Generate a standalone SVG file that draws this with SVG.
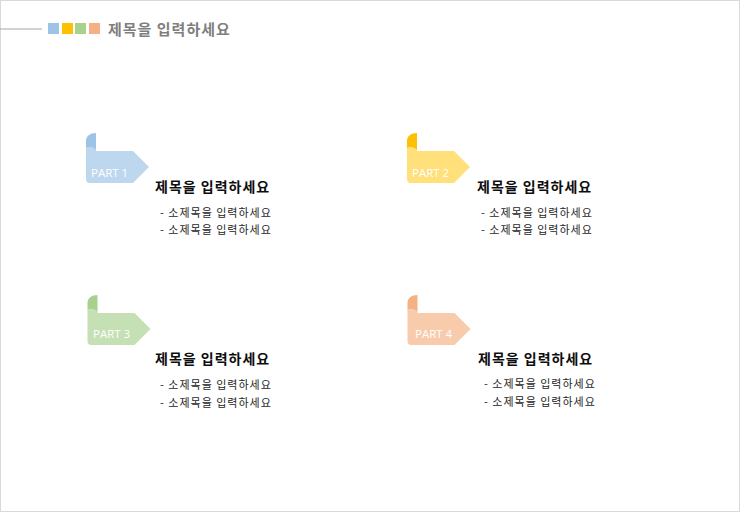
<svg xmlns="http://www.w3.org/2000/svg" width="740" height="512" viewBox="0 0 740 512">
<defs>
<style>
.kr{font-family:"Noto Sans CJK KR","Noto Sans",sans-serif;letter-spacing:1px;}
.head{font-size:15px;font-weight:bold;fill:#7f7f7f;}
.ttl{font-size:14px;font-weight:bold;fill:#0d0d0d;}
.sub{font-size:11px;fill:#262626;}
.part{font-family:"Open Sans","Liberation Sans",sans-serif;font-size:11.5px;fill:#ffffff;}
</style>
<path id="curl" d="M96,133 L96,150 C93,147 89,146 86,148 L86,141 C86,136 90,133 96,133 Z"/>
<path id="body" d="M86,148 C89,146 93,147 96,150 L96,151 L133,151 L149,167 L133,183 L90,183 Q86,183 86,179 Z"/>
</defs>
<rect x="0.5" y="0.5" width="739" height="511" fill="#ffffff" stroke="#d9d9d9"/>
<g id="header">
<line x1="0" y1="29" x2="42" y2="29" stroke="#a6a6a6" stroke-width="1"/>
<rect x="48" y="23" width="11" height="11" fill="#9dc3e6"/>
<rect x="62" y="23" width="11" height="11" fill="#ffc000"/>
<rect x="75" y="23" width="11" height="11" fill="#a9d18e"/>
<rect x="89" y="23" width="11" height="11" fill="#f4b183"/>
<text x="108" y="35" class="kr head">제목을 입력하세요</text>
</g>
<g id="connectors"></g>
<g id="part1">
<use href="#body" fill="#bdd7ee"/>
<use href="#curl" fill="#9dc3e6"/>
<text x="91" y="177" class="part">PART 1</text>
<text x="155" y="192" class="kr ttl">제목을 입력하세요</text>
<text x="160" y="216.5" class="kr sub">- 소제목을 입력하세요</text>
<text x="160" y="234" class="kr sub">- 소제목을 입력하세요</text>
</g>
<g id="part2">
<g transform="translate(321,0)">
<use href="#body" fill="#ffe07a"/>
<use href="#curl" fill="#ffc000"/>
</g>
<text x="412" y="177" class="part">PART 2</text>
<text x="477" y="192" class="kr ttl">제목을 입력하세요</text>
<text x="481" y="216.5" class="kr sub">- 소제목을 입력하세요</text>
<text x="481" y="234" class="kr sub">- 소제목을 입력하세요</text>
</g>
<g id="part3">
<g transform="translate(1.5,162)">
<use href="#body" fill="#c5e0b4"/>
<use href="#curl" fill="#a9d18e"/>
</g>
<text x="93" y="338" class="part">PART 3</text>
<text x="155" y="364" class="kr ttl">제목을 입력하세요</text>
<text x="160" y="389" class="kr sub">- 소제목을 입력하세요</text>
<text x="160" y="407" class="kr sub">- 소제목을 입력하세요</text>
</g>
<g id="part4">
<g transform="translate(321.5,162)">
<use href="#body" fill="#f8cbad"/>
<use href="#curl" fill="#f4b183"/>
</g>
<text x="415" y="338" class="part">PART 4</text>
<text x="478" y="363.5" class="kr ttl">제목을 입력하세요</text>
<text x="484" y="388" class="kr sub">- 소제목을 입력하세요</text>
<text x="484" y="406" class="kr sub">- 소제목을 입력하세요</text>
</g>
</svg>
